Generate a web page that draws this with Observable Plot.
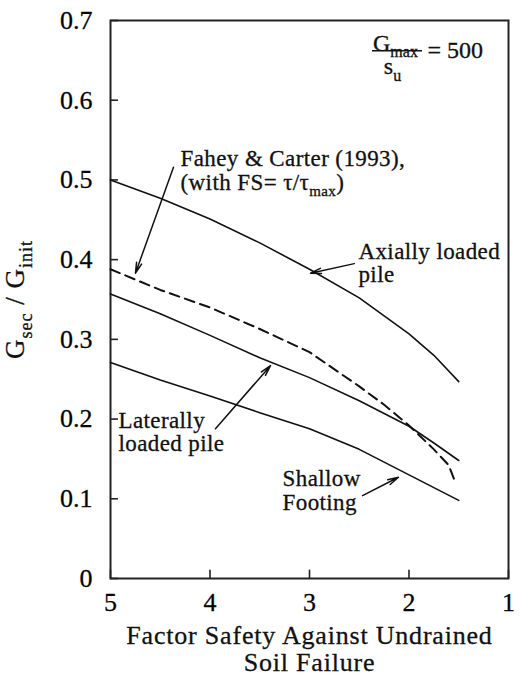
<!DOCTYPE html>
<html>
<head>
<meta charset="utf-8">
<script src="https://cdn.jsdelivr.net/npm/d3@7"></script>
<script src="https://cdn.jsdelivr.net/npm/@observablehq/plot@0.6"></script>
<style>
  html, body { margin: 0; padding: 0; background: #fff; }
  #chart { width: 525px; height: 687px; }
  #chart svg, #chart svg text { font-family: "Liberation Serif", "Times New Roman", serif !important; }
  #chart svg text { stroke: #111; stroke-width: 0.3px; }
</style>
</head>
<body>
<div id="chart"></div>
<script>
// ---- data ----
const fs = [5, 4.5, 4, 3.5, 3, 2.5, 2, 1.75, 1.5];
const axialPile   = [0.500, 0.477, 0.451, 0.421, 0.388, 0.352, 0.307, 0.280, 0.247];
const lateralPile = [0.357, 0.332, 0.305, 0.277, 0.252, 0.223, 0.191, 0.170, 0.148];
const shallowFooting = [0.271, 0.249, 0.229, 0.208, 0.188, 0.162, 0.130, 0.114, 0.098];

const fsFahey = [5, 4.5, 4, 3.5, 3, 2.5, 2.25, 2, 1.75, 1.6, 1.53];
const faheyCarter = [0.388, 0.362, 0.340, 0.313, 0.284, 0.241, 0.218, 0.192, 0.162, 0.142, 0.119];

const xTicks = [5, 4, 3, 2, 1];
const yTicks = [0, 0.1, 0.2, 0.3, 0.4, 0.5, 0.6, 0.7];
const xTickLabels = ["5", "4", "3", "2", "1"];
const yTickLabels = ["0", "0.1", "0.2", "0.3", "0.4", "0.5", "0.6", "0.7"];

const xTitle1 = "Factor Safety Against Undrained";
const xTitle2 = "Soil Failure";
const yTitle = "G[sec] / G[init]";

// annotation texts (subscripts marked with [ ])
const noteTexts = [
  {x: 4.296, y: 0.527, t: "Fahey & Carter (1993),"},
  {x: 4.296, y: 0.497, t: "(with FS= τ/τ[max])"},
  {x: 2.508, y: 0.410, t: "Axially loaded"},
  {x: 2.508, y: 0.381, t: "pile"},
  {x: 4.92,  y: 0.198, t: "Laterally"},
  {x: 4.92,  y: 0.169, t: "loaded pile"},
  {x: 3.271, y: 0.125, t: "Shallow"},
  {x: 3.271, y: 0.095, t: "Footing"}
];
const noteArrows = [
  {x1: 4.367, y1: 0.516, x2: 4.749, y2: 0.383},
  {x1: 2.55, y1: 0.395, x2: 2.990, y2: 0.383},
  {x1: 3.945, y1: 0.188, x2: 3.392, y2: 0.267},
  {x1: 2.467, y1: 0.104, x2: 2.106, y2: 0.127}
];
const ratioNum = {x: 2.136, y: 0.672, t: "G[max]"};
const ratioDen = {x: 2.166, y: 0.642, t: "s[u]"};
const ratioLine = {x1: 2.367, x2: 1.864, y: 0.662};
const ratioVal = {x: 1.814, y: 0.662, t: "= 500"};

// ---- build tables ----
const tbl = (xs, ys) => xs.map((x, i) => ({x, y: ys[i]}));
const axial = tbl(fs, axialPile);
const lateral = tbl(fs, lateralPile);
const shallow = tbl(fs, shallowFooting);
const fahey = tbl(fsFahey, faheyCarter);

const font = "'Liberation Serif', 'Times New Roman', serif";

const chart = Plot.plot({
  width: 525,
  height: 687,
  marginLeft: 110,
  marginRight: 17,
  marginTop: 20,
  marginBottom: 109,
  style: {fontFamily: font, fontSize: "26px", background: "#fff", color: "#000"},
  x: {domain: [5, 1]},
  y: {domain: [0, 0.7]},
  marks: [
    Plot.frame({stroke: "#222", strokeWidth: 2}),
    // inward ticks
    Plot.ruleX(xTicks, {x: d => d, y1: 0, y2: 0.0105, stroke: "#222", strokeWidth: 1.6}),
    Plot.ruleY(yTicks, {y: d => d, x1: 5, x2: 4.92, stroke: "#222", strokeWidth: 1.6}),
    Plot.axisX({ticks: xTicks, tickSize: 0, tickPadding: 14, tickFormat: d => xTickLabels[xTicks.indexOf(d)], fontSize: 26}),
    Plot.axisY({ticks: yTicks, tickSize: 0, tickPadding: 18, tickFormat: d => yTickLabels[yTicks.indexOf(d)], fontSize: 26}),
    // curves
    Plot.line(axial, {x: "x", y: "y", stroke: "#111", strokeWidth: 1.6}),
    Plot.line(lateral, {x: "x", y: "y", stroke: "#111", strokeWidth: 1.6}),
    Plot.line(shallow, {x: "x", y: "y", stroke: "#111", strokeWidth: 1.6}),
    Plot.line(fahey, {x: "x", y: "y", stroke: "#111", strokeWidth: 2, strokeDasharray: "10,6"}),
    // annotations
    Plot.arrow(noteArrows, {x1: "x1", y1: "y1", x2: "x2", y2: "y2", stroke: "#111", strokeWidth: 1.5, headLength: 11, headAngle: 28}),
    Plot.text(noteTexts, {x: "x", y: "y", text: "t", textAnchor: "start", lineAnchor: "middle", fontSize: 23, fill: "#111", className: "note"}),
    Plot.text([ratioNum, ratioDen], {x: "x", y: "y", text: "t", textAnchor: "middle", lineAnchor: "middle", fontSize: 24, fill: "#111"}),
    Plot.ruleY([ratioLine], {y: "y", x1: "x1", x2: "x2", stroke: "#111", strokeWidth: 1.5}),
    Plot.text([ratioVal], {x: "x", y: "y", text: "t", textAnchor: "start", lineAnchor: "middle", fontSize: 24, fill: "#111"}),
    // axis titles
    Plot.text([xTitle1], {frameAnchor: "bottom", textAnchor: "middle", dy: 57, lineAnchor: "middle", fontSize: 26, fill: "#111", className: "xtitle"}),
    Plot.text([xTitle2], {frameAnchor: "bottom", textAnchor: "middle", dy: 84, lineAnchor: "middle", fontSize: 26, fill: "#111", className: "xtitle"}),
    Plot.text([yTitle], {frameAnchor: "left", textAnchor: "middle", dx: -95, rotate: -90, lineAnchor: "middle", fontSize: 27, fill: "#111", className: "ytitle"})
  ]
});

document.getElementById("chart").appendChild(chart);
const sv = d3.select(chart);
sv.selectAll("text").style("font-family", font);
sv.selectAll(".xtitle text").style("letter-spacing", "0.8px");
sv.selectAll(".ytitle text").style("letter-spacing", "1px");
sv.selectAll(".note text").style("letter-spacing", "0.4px");

// convert [..] markup into subscript tspans
sv.selectAll("text").each(function() {
  const el = this;
  if (el.querySelector("tspan")) return;
  const s = el.textContent;
  if (!s.includes("[")) return;
  const base = parseFloat(getComputedStyle(el).fontSize) || 22;
  const sub = Math.round(base * 0.66);
  const shift = base * 0.28;
  el.textContent = "";
  const parts = s.split(/(\[[^\]]*\])/).filter(p => p.length);
  let lowered = false;
  const sel = d3.select(el);
  for (const p of parts) {
    if (p.startsWith("[")) {
      const ts = sel.append("tspan").attr("font-size", sub).text(p.slice(1, -1));
      if (!lowered) { ts.attr("dy", shift); lowered = true; }
    } else {
      const ts = sel.append("tspan").text(p);
      if (lowered) { ts.attr("dy", -shift); lowered = false; }
    }
  }
});
</script>
</body>
</html>
